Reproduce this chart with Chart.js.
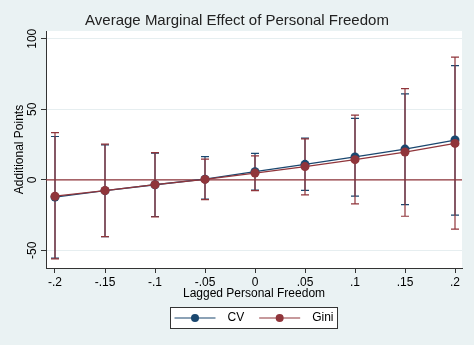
<!DOCTYPE html>
<html>
<head>
<meta charset="utf-8">
<script src="https://cdn.jsdelivr.net/npm/chart.js@4.4.1/dist/chart.umd.min.js"></script>
<style>
html,body{margin:0;padding:0;background:#eaf2f3;}
</style>
</head>
<body>
<canvas id="grafico" width="474" height="345"></canvas>
<script>
// valori
var xVal = [-0.2, -0.15, -0.1, -0.05, 0, 0.05, 0.1, 0.15, 0.2];
var xTickLabels = ['-.2', '-.15', '-.1', '-.05', '0', '.05', '.1', '.15', '.2'];
var yTicks = [-50, 0, 50, 100];
var yTickLabels = ['-50', '0', '50', '100'];

var cvVal  = [-12.2, -7.7, -3.5, 0.5, 5.8, 11.0, 16.2, 21.8, 28.2];
var cvLow  = [-55.5, -40.2, -26.0, -13.6, -7.2, -7.5, -11.5, -17.6, -25.0];
var cvHigh = [30.7, 24.8, 19.0, 16.5, 18.7, 29.5, 43.5, 61.0, 81.0];

var giniVal  = [-11.6, -7.6, -3.4, 0.3, 4.8, 9.4, 14.3, 19.7, 25.8];
var giniLow  = [-56.0, -40.2, -26.3, -14.0, -7.6, -10.6, -17.0, -25.8, -35.0];
var giniHigh = [33.5, 25.3, 19.3, 14.7, 17.0, 29.0, 45.8, 64.6, 87.0];

var blu = '#1a476f';
var rosso = '#90353b';
var font = '"Liberation Sans", Arial, sans-serif';

Chart.defaults.font.family = font;
Chart.defaults.color = '#000';

function punti(v){
    var out = [];
    for (var i = 0; i < xVal.length; i++) out.push({x: xVal[i], y: v[i]});
    return out;
}

//sfondo grigio-azzurro e area del grafico bianca
var pluginSfondo = {
    id: 'sfondo',
    beforeDraw: function(chart){
        var ctx = chart.ctx, a = chart.chartArea;
        ctx.save();
        ctx.fillStyle = '#eaf2f3';
        ctx.fillRect(0, 0, chart.width, chart.height);
        ctx.fillStyle = '#ffffff';
        ctx.fillRect(a.left, a.top, a.right - a.left, a.bottom - a.top);
        ctx.restore();
    }
};

//intervalli di confidenza e linea dello zero
var pluginBarre = {
    id: 'barre',
    beforeDatasetsDraw: function(chart){
        var ctx = chart.ctx, sx = chart.scales.x, sy = chart.scales.y, a = chart.chartArea;
        ctx.save();
        ctx.lineWidth = 1.2;
        var serie = [[cvLow, cvHigh, blu], [giniLow, giniHigh, rosso]];
        serie.forEach(function(s){
            ctx.strokeStyle = s[2];
            for (var i = 0; i < xVal.length; i++) {
                var x = sx.getPixelForValue(xVal[i]);
                var yl = sy.getPixelForValue(s[0][i]);
                var yh = sy.getPixelForValue(s[1][i]);
                ctx.beginPath();
                ctx.moveTo(x, yl); ctx.lineTo(x, yh);
                ctx.moveTo(x - 4, yl); ctx.lineTo(x + 4, yl);
                ctx.moveTo(x - 4, yh); ctx.lineTo(x + 4, yh);
                ctx.stroke();
            }
        });
        var y0 = sy.getPixelForValue(0);
        ctx.strokeStyle = rosso;
        ctx.beginPath(); ctx.moveTo(a.left, y0); ctx.lineTo(a.right, y0); ctx.stroke();
        ctx.restore();
    }
};

//etichette verticali dell'asse y e legenda con bordo
var pluginTesti = {
    id: 'testi',
    afterDraw: function(chart){
        var ctx = chart.ctx, sy = chart.scales.y, sx = chart.scales.x, a = chart.chartArea;
        ctx.save();
        ctx.font = '12px ' + font;
        ctx.fillStyle = '#000';
        ctx.textAlign = 'center';
        ctx.textBaseline = 'middle';
        yTicks.forEach(function(v, i){
            var y = sy.getPixelForValue(v);
            ctx.save();
            ctx.translate(33, y);
            ctx.rotate(-Math.PI / 2);
            ctx.fillText(yTickLabels[i], 0, 0);
            ctx.restore();
        });

        var items = chart.data.datasets.map(function(d){ return {testo: d.label, col: d.borderColor}; });
        var lineW = 41, gap = 12, sep = 15, pad = 4, h = 21;
        var w = pad * 2 + sep * (items.length - 1);
        items.forEach(function(it){ it.tw = ctx.measureText(it.testo).width; w += lineW + gap + it.tw; });
        var left = Math.round((a.left + a.right) / 2 - w / 2) + 0.5;
        var top = Math.round(sx.bottom + 6) + 0.5;
        ctx.fillStyle = '#ffffff';
        ctx.fillRect(left, top, w, h);
        ctx.strokeStyle = '#333';
        ctx.lineWidth = 1;
        ctx.strokeRect(left, top, w, h);
        var x = left + pad, ym = top + h / 2;
        items.forEach(function(it){
            ctx.strokeStyle = it.col;
            ctx.lineWidth = 1.2;
            ctx.beginPath(); ctx.moveTo(x, ym); ctx.lineTo(x + lineW, ym); ctx.stroke();
            ctx.fillStyle = it.col;
            ctx.beginPath(); ctx.arc(x + lineW / 2, ym, 4, 0, Math.PI * 2); ctx.fill();
            ctx.fillStyle = '#000';
            ctx.textAlign = 'left';
            ctx.fillText(it.testo, x + lineW + gap, ym);
            x += lineW + gap + it.tw + sep;
        });
        ctx.restore();
    }
};

new Chart(document.getElementById('grafico').getContext('2d'), {
    type: 'line',
    data: {
        datasets: [{
            label: 'CV',
            data: punti(cvVal),
            borderColor: blu,
            backgroundColor: blu,
            borderWidth: 1.3,
            pointRadius: 4.5,
            pointBorderWidth: 0,
            pointBackgroundColor: blu,
            order: 1
        }, {
            label: 'Gini',
            data: punti(giniVal),
            borderColor: rosso,
            backgroundColor: rosso,
            borderWidth: 1.3,
            pointRadius: 4.5,
            pointBorderWidth: 0,
            pointBackgroundColor: rosso,
            order: 0
        }]
    },
    options: {
        responsive: false,
        animation: false,
        layout: {padding: {left: 12, right: 12, top: 0, bottom: 44}},
        scales: {
            x: {
                type: 'linear',
                min: -0.209, max: 0.207,
                afterBuildTicks: function(s){ s.ticks = xVal.map(function(v){ return {value: v}; }); },
                afterFit: function(s){ s.height = 33; },
                grid: {drawOnChartArea: false, drawTicks: true, tickLength: 5, tickColor: '#333'},
                border: {color: '#333', width: 1},
                ticks: {
                    font: {size: 12}, color: '#000', padding: 2, maxRotation: 0, autoSkip: false,
                    callback: function(v, i){ return xTickLabels[i]; }
                },
                title: {display: true, text: 'Lagged Personal Freedom', font: {size: 12}, color: '#000', padding: 0}
            },
            y: {
                min: -62.5, max: 105.5,
                afterBuildTicks: function(s){ s.ticks = yTicks.map(function(v){ return {value: v}; }); },
                afterFit: function(s){ s.width = 34; },
                grid: {color: '#e6eef0', drawTicks: true, tickLength: 5, tickColor: '#333'},
                border: {color: '#333', width: 1},
                ticks: {display: false},
                title: {display: true, text: 'Additional Points', font: {size: 12}, color: '#000', padding: {top: 0.8, bottom: 0}}
            }
        },
        plugins: {
            legend: {display: false},
            tooltip: {enabled: false},
            title: {display: true, text: 'Average Marginal Effect of Personal Freedom', font: {size: 15, weight: 'normal'}, color: '#222', padding: {top: 12, bottom: 1}}
        }
    },
    plugins: [pluginSfondo, pluginBarre, pluginTesti]
});
</script>
</body>
</html>
